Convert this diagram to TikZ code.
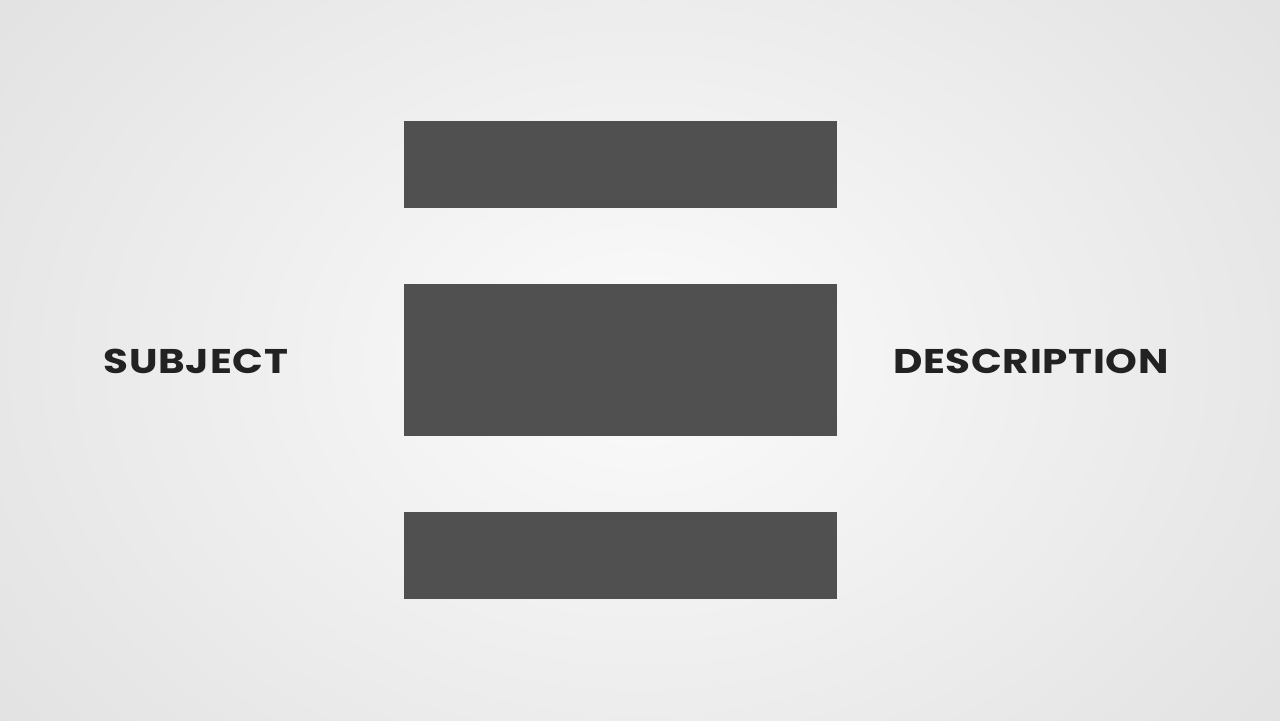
\documentclass[tikz,border=0pt]{standalone}
\usepackage{fontspec}
\setmainfont{Poppins}
\newfontfamily\widelabel{Poppins}[FakeStretch=1.18,LetterSpace=2]
\definecolor{barfill}{HTML}{505050}
\definecolor{labelink}{HTML}{222222}
\definecolor{bgcentre}{HTML}{FBFBFB}
\definecolor{bgedge}{HTML}{DEDEDE}
\tikzset{bar/.style={fill=barfill,draw=none,inner sep=0cm,minimum width=8.66cm},
side label/.style={font=\widelabel\fontsize{19.5}{23}\selectfont\bfseries,text=labelink,inner sep=0cm,anchor=center}}

\begin{document}
\begin{tikzpicture}
% The scale is 0.02cm per pixel of a 1280x720 frame

%% background
\useasboundingbox (0,0) rectangle (25.6,14.4);
\shade [inner color=bgcentre,outer color=bgedge] (-6,-7) rectangle (31.6,21.4);

%% Coordinates of bars.
\coordinate (btop) at (12.41,11.11);
\coordinate (bmid) at (12.41,7.20);
\coordinate (bbot) at (12.41,3.29);

%% bars
\node [bar,minimum height=1.74cm] (topbar) at (btop) {};
\node [bar,minimum height=3.04cm] (midbar) at (bmid) {};
\node [bar,minimum height=1.74cm] (botbar) at (bbot) {};

%% side labels
\node [side label] (subject) at (3.92,7.18) {SUBJECT};
\node [side label] (description) at (20.62,7.18) {DESCRIPTION};

\end{tikzpicture}
\end{document}
